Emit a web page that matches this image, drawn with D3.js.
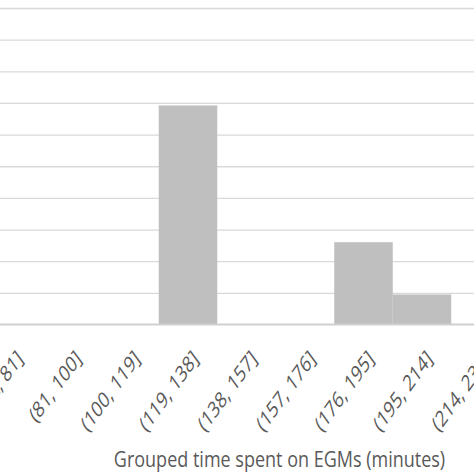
<!DOCTYPE html>
<html>
<head>
<meta charset="utf-8">
<script src="https://cdn.jsdelivr.net/npm/d3@7"></script>
<style>
  body { margin: 0; background: #fff; }
  svg { display: block; }
</style>
</head>
<body>
<div id="chart"></div>
<script>
// bins of time spent (minutes) and their values
var bins = ["(62, 81]", "(81, 100]", "(100, 119]", "(119, 138]", "(138, 157]",
            "(157, 176]", "(176, 195]", "(195, 214]", "(214, 233]"];
var values = [0, 0, 0, 6.92, 0, 0, 2.6, 0.95, 0];
var yTicks = [0, 1, 2, 3, 4, 5, 6, 7, 8, 9, 10];
var xTitle = "Grouped time spent on EGMs (minutes)";

var W = 474, H = 474;
var baseY = 324.5, topY = 8;

var data = bins.map(function(b, i) { return {bin: b, value: values[i]}; });

var svg = d3.select("#chart").append("svg")
    .attr("width", W)
    .attr("height", H);

// the picture is a crop, so the band range runs past both edges
var step = 58.5, x0 = -16.75;
var x = d3.scaleBand()
    .domain(bins)
    .range([x0, x0 + step * bins.length])
    .padding(0);

var y = d3.scaleLinear()
    .domain([0, 10])
    .range([baseY, topY]);

// gridlines
var grid = svg.append("g")
    .call(d3.axisLeft(y).tickValues(yTicks.slice(1)).tickSize(-W).tickFormat(""));
grid.select(".domain").remove();
grid.selectAll("line").attr("stroke", "#d9d9d9").attr("stroke-width", 1.3);

// bars
svg.selectAll("rect.bar")
    .data(data)
    .enter().append("rect")
    .attr("class", "bar")
    .attr("x", function(d) { return x(d.bin); })
    .attr("width", x.bandwidth())
    .attr("y", function(d) { return y(d.value); })
    .attr("height", function(d) { return baseY - y(d.value); })
    .attr("fill", "#bfbfbf");

// baseline
svg.append("line")
    .attr("x1", 0).attr("x2", W)
    .attr("y1", y(0)).attr("y2", y(0))
    .attr("stroke", "#d0d0d0")
    .attr("stroke-width", 2);

// rotated category labels (source image is stretched vertically)
svg.selectAll("text.tick")
    .data(bins)
    .enter().append("text")
    .attr("class", "tick")
    .attr("transform", function(d) {
        return "translate(" + (x(d) + x.bandwidth() / 2 + 11.5) + "," + (baseY + 35.5) + ")" +
               "scale(1,1.37)rotate(-45)";
    })
    .attr("text-anchor", "end")
    .attr("font-family", "Open Sans, sans-serif")
    .attr("font-size", 16.5)
    .attr("fill", "#595959")
    .text(function(d) { return d; });

// x axis title
svg.append("text")
    .attr("transform", "translate(279.5,467)scale(1,1.26)")
    .attr("text-anchor", "middle")
    .attr("font-family", "Open Sans, sans-serif")
    .attr("font-size", 18)
    .attr("fill", "#595959")
    .text(xTitle);
</script>
</body>
</html>
